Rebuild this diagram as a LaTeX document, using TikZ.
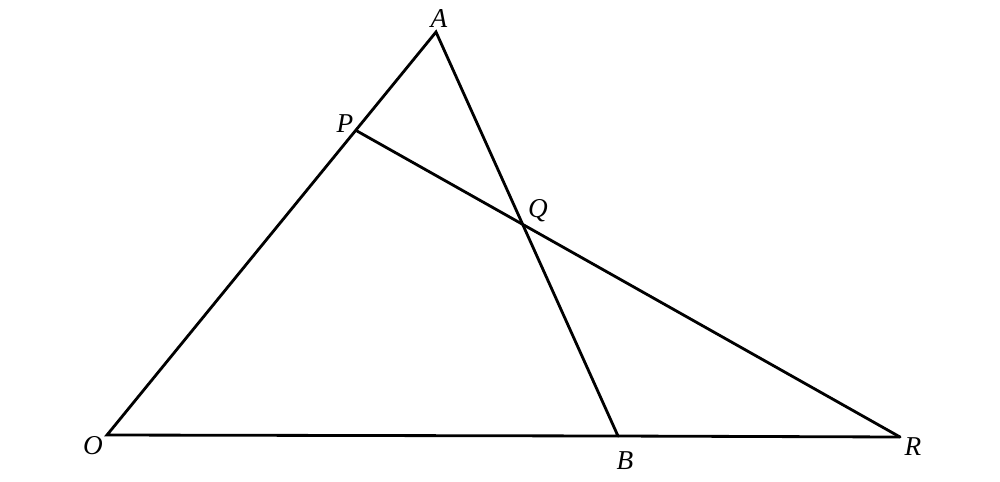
\documentclass[tikz,border=0pt]{standalone}
\usepackage{fontspec}
\setmainfont{Liberation Serif}
\begin{document}
\begin{tikzpicture}[x=0.02cm,y=-0.02cm,
  seg/.style={line width=1.6pt, line cap=round, line join=miter},
  lbl/.style={font=\fontsize{15.5}{17}\selectfont\itshape, inner sep=0pt}]
\useasboundingbox (0,0) rectangle (1000,481);
\coordinate (O) at (107,435);
\coordinate (A) at (436,32);
\coordinate (B) at (618,436);
\coordinate (R) at (900,437);
\coordinate (P) at (357,131);
\coordinate (Q) at (522.7,224.5);
\draw[seg] (B) -- (O) -- (A) -- (B);
\draw[seg] (B) -- (R);
\draw[seg] (P) -- (R);
\node[lbl] (lA) at (439,19) {A};
\node[lbl] (lP) at (345,124) {P};
\node[lbl] (lQ) at (538,211) {Q};
\node[lbl] (lO) at (93,446) {O};
\node[lbl] (lB) at (625,461) {B};
\node[lbl] (lR) at (913,447) {R};
\end{tikzpicture}
\end{document}
